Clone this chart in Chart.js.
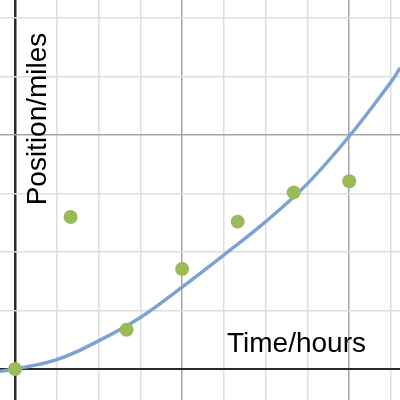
<!DOCTYPE html>
<html>
<head>
<meta charset="utf-8">
<script src="https://cdn.jsdelivr.net/npm/chart.js@4"></script>
<style>
  html, body { margin: 0; padding: 0; background: #fff; }
  #wrap { width: 400px; height: 400px; }
</style>
</head>
<body>
<div id="wrap"><canvas id="posChart" width="400" height="400"></canvas></div>
<script>
// measured points (time in hours, position in miles)
const timeVals = [0, 1.33, 2.67, 4, 5.33, 6.67, 8];
const posVals = [0, 2.60, 0.67, 1.71, 2.52, 3.02, 3.21];

// trend curve
const fitX = [-0.36, 0, 1, 2, 3, 4, 5, 6, 7, 8, 9, 9.22];
const fitY = [-0.04, 0, 0.16, 0.48, 0.88, 1.4, 1.95, 2.52, 3.17, 3.98, 4.91, 5.15];

// grid lines
const xGrid = [0, 1, 2, 3, 4, 5, 6, 7, 8, 9];
const yGrid = [0, 1, 2, 3, 4, 5, 6];

const xLabel = 'Time/hours';
const yLabel = 'Position/miles';

function gridColor(ctx) {
    const v = ctx.tick ? ctx.tick.value : 1;
    if (v === 0) return '#2a2a2a';
    if (v % 4 === 0) return '#a6a6a6';
    return '#dedede';
}
function gridWidth(ctx) {
    const v = ctx.tick ? ctx.tick.value : 1;
    if (v === 0) return ctx.scale.axis === 'x' ? 2.5 : 2;
    return 1.5;
}

const labelPlugin = {
    id: 'axisText',
    afterDatasetsDraw(chart) {
        const c = chart.ctx;
        c.save();
        c.fillStyle = '#000';
        c.font = '28px "Liberation Sans", Arial, sans-serif';
        c.textBaseline = 'alphabetic';
        c.textAlign = 'left';
        c.fillText(xLabel, 227, 352);
        c.translate(46, 119);
        c.rotate(-Math.PI / 2);
        c.textAlign = 'center';
        c.fillText(yLabel, 0, 0);
        c.restore();
    }
};

const ctx = document.getElementById('posChart').getContext('2d');
new Chart(ctx, {
    type: 'scatter',
    data: {
        datasets: [
            {
                label: 'data',
                data: timeVals.map((t, i) => ({ x: t, y: posVals[i] })),
                backgroundColor: '#9bbb59',
                borderWidth: 0,
                pointRadius: 7,
                pointHoverRadius: 7
            },
            {
                label: 'fit',
                data: fitX.map((t, i) => ({ x: t, y: fitY[i] })),
                showLine: true,
                borderColor: '#7ba3d4',
                borderWidth: 3.5,
                pointRadius: 0,
                tension: 0.4,
                fill: false
            }
        ]
    },
    options: {
        responsive: false,
        animation: false,
        layout: { padding: 0, autoPadding: false },
        plugins: {
            legend: { display: false },
            tooltip: { enabled: false }
        },
        scales: {
            x: {
                type: 'linear',
                min: -0.359,
                max: 9.215,
                afterBuildTicks: s => { s.ticks = xGrid.map(v => ({ value: v })); },
                ticks: { display: false, padding: 0, autoSkip: false },
                border: { display: false },
                grid: { color: gridColor, lineWidth: gridWidth, drawTicks: false, tickLength: 0 }
            },
            y: {
                type: 'linear',
                min: -0.53,
                max: 6.31,
                afterBuildTicks: s => { s.ticks = yGrid.map(v => ({ value: v })); },
                ticks: { display: false, padding: 0 },
                border: { display: false },
                grid: { color: gridColor, lineWidth: gridWidth, drawTicks: false, tickLength: 0 }
            }
        }
    },
    plugins: [labelPlugin]
});
</script>
</body>
</html>
